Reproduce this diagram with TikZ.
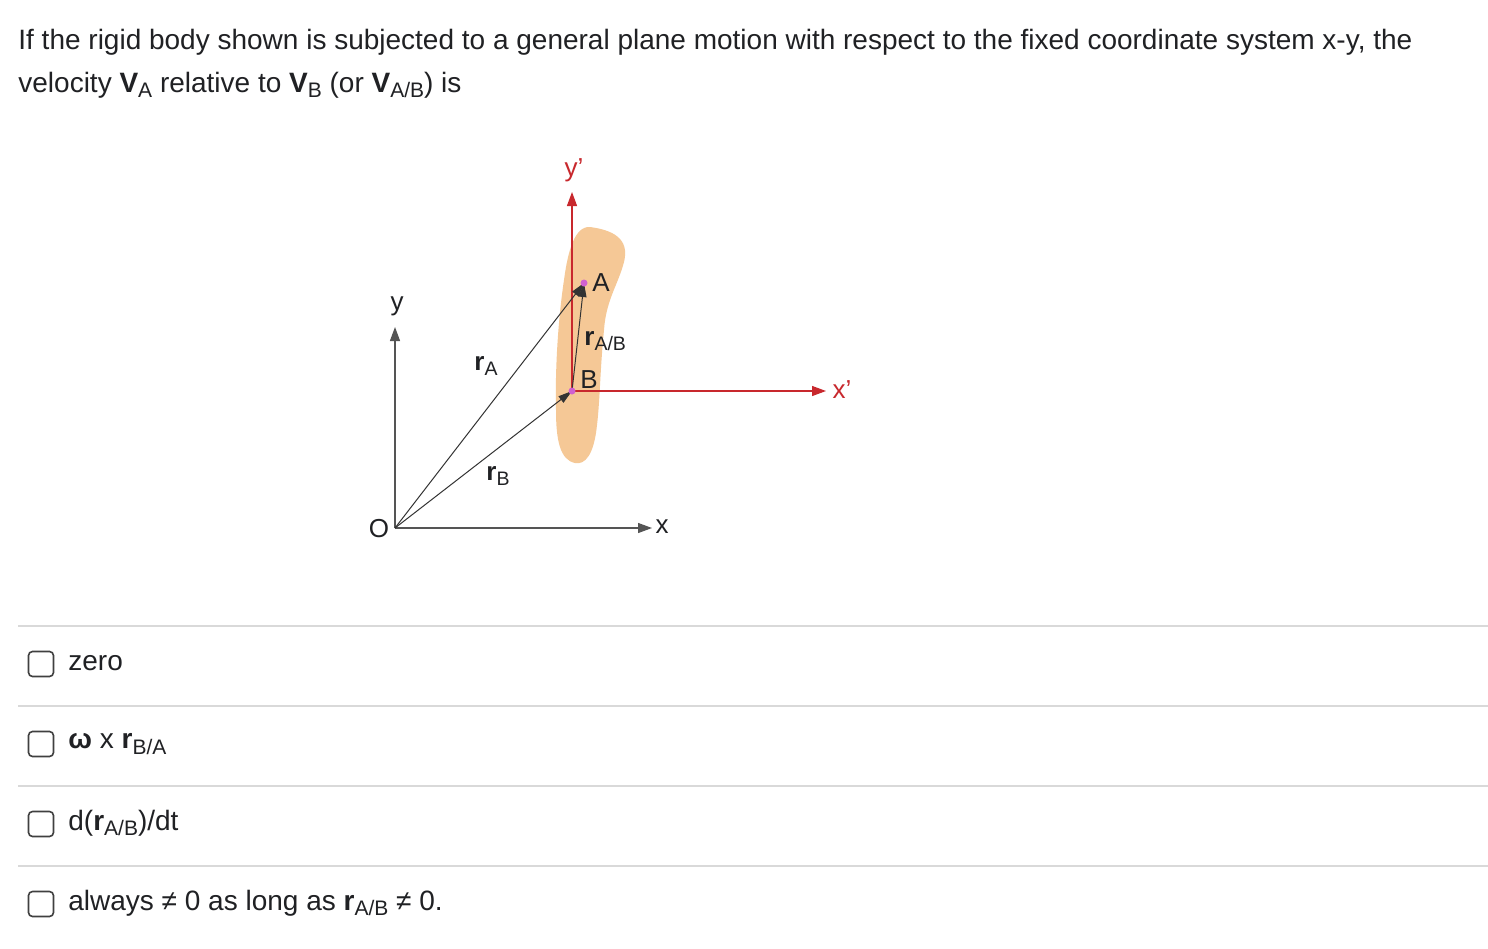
\documentclass[tikz,border=0pt]{standalone}
\usepackage{fontspec}
\setmainfont{Liberation Sans}
\usetikzlibrary{arrows.meta}
\newcommand{\sbx}[1]{\raisebox{-0.35ex}{\scalebox{0.75}{#1}}}
\definecolor{txt}{HTML}{202124}
\definecolor{ax}{HTML}{555555}
\definecolor{redax}{HTML}{C8282D}
\definecolor{blob}{HTML}{F5C896}
\definecolor{pinkd}{HTML}{D060D0}
\begin{document}
\begin{tikzpicture}[x=0.5pt,y=-0.5pt,
  qtext/.style={anchor=west,inner sep=0,font=\fontsize{14}{17}\selectfont,text=txt},
  lbl/.style={inner sep=0,font=\fontsize{13}{15}\selectfont,text=txt},
  rlbl/.style={inner sep=0,font=\fontsize{13}{15}\selectfont,text=redax},
  axis/.style={draw=ax,line width=0.6pt,-{Triangle[length=7pt,width=5pt]}},
  raxis/.style={draw=redax!80,line width=0.6pt,-{Triangle[length=7pt,width=5pt]},color=redax},
  vec/.style={draw=ax,line width=0.5pt,-{Triangle[length=7pt,width=4pt]},color=black!80},
  sep/.style={draw=black!15,line width=0.6pt},
  cbox/.style={draw=black!75,line width=0.8pt,rounded corners=2pt,minimum size=12.5pt,inner sep=0}]
\useasboundingbox[fill=white] (0,0) rectangle (1488,948);
\node[qtext] (q1) at (18,42) {If the rigid body shown is subjected to a general plane motion with respect to the fixed coordinate system x-y, the};
\node[qtext] (q2) at (18,85) {velocity \textbf{V}\sbx{A} relative to \textbf{V}\sbx{B} (or \textbf{V}\sbx{A/B}) is};
% body
\fill[blob] (590,227) .. controls (612,230) and (630,238) .. (624,262)
  .. controls (618,285) and (606,300) .. (604,330)
  .. controls (600,370) and (600,400) .. (597,425)
  .. controls (594,455) and (585,465) .. (575,463)
  .. controls (560,460) and (556,440) .. (556,410)
  .. controls (555,370) and (558,320) .. (564,280)
  .. controls (568,250) and (575,226) .. (590,227) -- cycle;
\coordinate (O) at (395,528);
\coordinate (B) at (572,391);
\coordinate (A) at (584,283);
\coordinate (xe) at (652,528);
\coordinate (ye) at (395,327);
\coordinate (xpe) at (826,391);
\coordinate (ype) at (572,192);
\draw[axis] (O) -- (xe);
\draw[axis] (O) -- (ye);
\draw[raxis] (B) -- (xpe);
\draw[raxis] (B) -- (ype);
\draw[vec] (O) -- (A);
\draw[vec] (O) -- (B);
\draw[vec] (B) -- (A);
\fill[pinkd] (A) circle (3.5);
\fill[pinkd] (B) circle (3.5);
\node[lbl] (lO) at (379,529) {O};
\node[lbl] (lx) at (662,527) {x};
\node[lbl] (ly) at (397,306) {y};
\node[rlbl] (lxp) at (842,390) {x’};
\node[rlbl] (lyp) at (574,170) {y’};
\node[lbl] (lA) at (601,283) {A};
\node[lbl] (lB) at (589,380) {B};
\node[lbl,anchor=west] (lrab) at (584,341) {\textbf{r}\sbx{A/B}};
\node[lbl,anchor=west] (lra) at (474,366) {\textbf{r}\sbx{A}};
\node[lbl,anchor=west] (lrb) at (486,476) {\textbf{r}\sbx{B}};
% options
\foreach \y/\n in {626/s1,706/s2,786/s3,866/s4}{
  \coordinate (\n a) at (18,\y); \coordinate (\n b) at (1488,\y);
  \draw[sep] (\n a) -- (\n b);}
\node[cbox] (c1) at (41,664) {};
\node[cbox] (c2) at (41,744) {};
\node[cbox] (c3) at (41,824) {};
\node[cbox] (c4) at (41,904) {};
\node[qtext] (o1) at (68,663) {zero};
\node[qtext] (o2) at (68,744) {\textbf{ω} x \textbf{r}\sbx{B/A}};
\node[qtext] (o3) at (68,823) {d(\textbf{r}\sbx{A/B})/dt};
\node[qtext] (o4) at (68,903) {always ≠ 0 as long as \textbf{r}\sbx{A/B} ≠ 0.};
\end{tikzpicture}
\end{document}
